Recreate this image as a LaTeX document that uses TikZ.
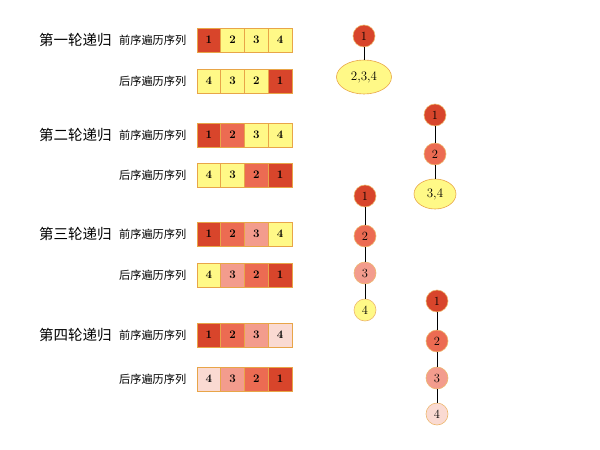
\documentclass[tikz,border=0pt]{standalone}
\usepackage{fontspec}
\newfontfamily\cjk{Noto Sans CJK SC}
\usepackage{xcolor}
\usepackage{tikz}
\usetikzlibrary{positioning, shapes.geometric}
\definecolor{redA}{HTML}{D8452B}
\definecolor{redB}{HTML}{EC6B52}
\definecolor{redC}{HTML}{F39C8D}
\definecolor{redD}{HTML}{FADAD2}
\definecolor{paleyel}{HTML}{FFF987}
\definecolor{cellborder}{HTML}{E8A548}

\tikzset{
  cell/.style={draw=cellborder, line width=1pt, minimum width=23.75pt, minimum height=24pt,
               inner sep=0pt, font=\fontsize{11.5}{13}\selectfont\bfseries},
  roundlabel/.style={font=\cjk\fontsize{14.5}{16}\selectfont, inner sep=0pt},
  seqlabel/.style={font=\cjk\fontsize{11.2}{13}\selectfont, inner sep=0pt},
  treenode/.style={circle, draw=cellborder!80, line width=0.6pt, minimum size=22pt,
                   inner sep=0pt, font=\fontsize{12.5}{14}\selectfont},
  restnode/.style={ellipse, draw=cellborder, line width=0.6pt, fill=paleyel, inner sep=0pt,
                   font=\fontsize{13}{15}\selectfont},
  treeedge/.style={draw=black, line width=0.8pt}
}

\begin{document}
\begin{tikzpicture}[x=1pt, y=-1pt]
  \useasboundingbox (0,0) rectangle (600,450);

  % sequences, one round after the other
  \foreach \r/\rname/\ypre/\ypost/\precols/\postcols in {
      1/第一轮递归/40/81/{redA,paleyel,paleyel,paleyel}/{paleyel,paleyel,paleyel,redA},
      2/第二轮递归/135/175/{redA,redB,paleyel,paleyel}/{paleyel,paleyel,redB,redA},
      3/第三轮递归/234/275/{redA,redB,redC,paleyel}/{paleyel,redC,redB,redA},
      4/第四轮递归/335/379/{redA,redB,redC,redD}/{redD,redC,redB,redA}} {
    \foreach \c [count=\i] in \precols {
      \node[cell, fill=\c] (pre\r-\i) at ({197+23.75*(\i-0.5)}, \ypre) {\i};
    }
    \foreach \c [count=\i, evaluate=\i as \v using int(5-\i)] in \postcols {
      \node[cell, fill=\c] (post\r-\i) at ({197+23.75*(\i-0.5)}, \ypost) {\v};
    }
    \node[seqlabel, left=10pt of pre\r-1] (prelabel\r) {前序遍历序列};
    \node[seqlabel, left=10pt of post\r-1] (postlabel\r) {后序遍历序列};
    \node[roundlabel, left=7pt of prelabel\r] (round\r) {\rname};
  }

  % round 1 tree
  \node[treenode, fill=redA] (t1a) at (364,36) {1};
  \node[restnode, minimum width=55pt, minimum height=34pt] (t1rest) at (364,77) {2,3,4};
  \draw[treeedge] (t1a) -- (t1rest);

  % round 2 tree
  \node[treenode, fill=redA] (t2a) at (435,115) {1};
  \node[treenode, fill=redB] (t2b) at (435,154) {2};
  \node[restnode, minimum width=42pt, minimum height=30pt] (t2rest) at (435,194) {3,4};
  \draw[treeedge] (t2a) -- (t2b) (t2b) -- (t2rest);

  % round 3 tree
  \node[treenode, fill=redA] (t3a) at (365,196) {1};
  \node[treenode, fill=redB] (t3b) at (365,236) {2};
  \node[treenode, fill=redC] (t3c) at (365,273) {3};
  \node[treenode, fill=paleyel] (t3d) at (365,310) {4};
  \draw[treeedge] (t3a) -- (t3b) (t3b) -- (t3c) (t3c) -- (t3d);

  % round 4 tree
  \node[treenode, fill=redA] (t4a) at (437,301) {1};
  \node[treenode, fill=redB] (t4b) at (437,341) {2};
  \node[treenode, fill=redC] (t4c) at (437,378) {3};
  \node[treenode, fill=redD] (t4d) at (437,414) {4};
  \draw[treeedge] (t4a) -- (t4b) (t4b) -- (t4c) (t4c) -- (t4d);
\end{tikzpicture}
\end{document}
